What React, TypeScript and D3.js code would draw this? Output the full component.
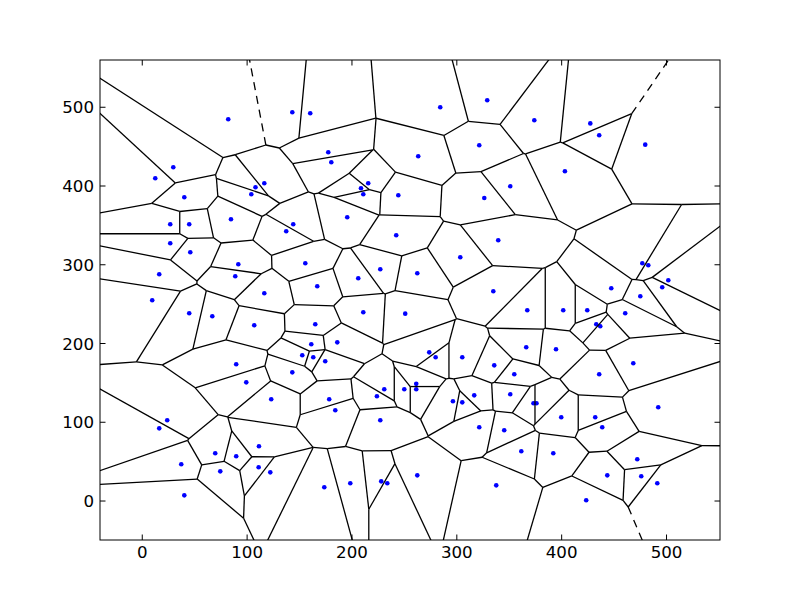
import React from "react";
import * as d3 from "d3";

// Generator points (data units)
const xs: number[] = [
  12.4, 29.6, 82.0, 143.1, 160.2, 284.2, 329.0, 373.9, 427.3, 435.8, 479.7,
  40.1, 108.0, 104.0, 116.4, 177.4, 180.3, 215.5, 208.6, 210.8, 244.2, 263.2,
  321.4, 403.1, 351.0, 326.2, 84.6, 195.5, 26.7, 44.8, 26.7, 45.8, 91.6, 16.2,
  88.7, 9.5, 44.8, 66.8, 106.8, 89.6, 99.2, 144.0, 137.3, 242.2, 155.5, 227.0,
  206.0, 166.9, 116.4, 210.8, 250.8, 165.0, 161.2, 186.0, 152.6, 163.1, 174.5,
  143.1, 339.5, 303.3, 262.3, 334.8, 367.2, 401.5, 366.2, 394.6, 273.7, 279.8,
  305.2, 335.7, 354.8, 261.3, 261.3, 249.9, 476.9, 482.6, 501.7, 495.9, 447.3,
  475.0, 424.4, 460.6, 433.0, 436.8, 468.3, 435.8, 23.8, 16.2, 69.6, 89.6,
  111.3, 37.2, 74.4, 111.0, 40.1, 123.0, 178.3, 184.1, 230.8, 223.8, 227.0,
  122.1, 173.6, 198.4, 227.9, 233.7, 296.3, 305.2, 316.6, 351.0, 373.1, 376.0,
  399.6, 321.4, 345.2, 361.5, 392.0, 262.3, 337.6, 492.1, 432.0, 438.7, 472.1,
  443.5, 475.9, 491.2, 423.4,
];
const ys: number[] = [
  409.8, 423.8, 484.8, 493.6, 492.4, 500.0, 508.9, 483.5, 479.5, 464.4, 452.5,
  385.7, 398.4, 389.5, 403.5, 442.8, 430.1, 403.5, 397.1, 389.5, 388.2, 437.8,
  451.7, 418.7, 399.7, 384.8, 357.8, 360.4, 351.4, 351.4, 327.3, 315.8, 300.6,
  287.9, 285.4, 254.9, 238.4, 234.6, 223.1, 173.6, 150.7, 351.4, 342.5, 337.4,
  301.9, 294.3, 282.8, 272.7, 263.8, 239.6, 237.9, 224.4, 199.0, 201.5, 185.0,
  182.5, 177.4, 163.4, 331.1, 309.5, 289.2, 266.3, 242.2, 242.2, 195.2, 192.7,
  188.8, 182.5, 182.5, 172.3, 160.9, 148.8, 141.9, 141.9, 301.9, 299.3, 280.3,
  271.4, 270.1, 260.0, 242.2, 238.4, 224.4, 221.9, 174.9, 160.9, 102.5, 92.3,
  60.6, 56.8, 69.5, 46.6, 37.7, 42.8, 7.2, 129.2, 129.2, 115.2, 141.9, 133.0,
  102.5, 36.4, 17.4, 22.5, 25.0, 22.5, 126.6, 125.3, 134.2, 135.5, 124.1,
  124.1, 106.3, 93.6, 89.8, 63.1, 60.6, 32.6, 19.9, 119.0, 106.3, 93.6, 53.0,
  32.6, 31.4, 22.5, 0.9,
];
const xTicks: number[] = [0, 100, 200, 300, 400, 500];
const yTicks: number[] = [0, 100, 200, 300, 400, 500];

const W = 800;
const H = 600;
const L = 100, R = 720, T = 60, B = 540;

export default function App() {
  const pts: [number, number][] = xs.map((x, i) => [x, ys[i]]);
  const x = d3.scaleLinear().domain([-40.3, 551]).range([L, R]);
  const y = d3.scaleLinear().domain([-49.5, 560]).range([B, T]);

  const delaunay = d3.Delaunay.from(pts);
  const { triangles, halfedges } = delaunay;
  const nT = triangles.length / 3;
  const cc: [number, number][] = [];
  for (let t = 0; t < nT; t++) {
    const [ax, ay] = pts[triangles[3 * t]];
    const [bx, by] = pts[triangles[3 * t + 1]];
    const [cx, cy] = pts[triangles[3 * t + 2]];
    const dx = bx - ax, dy = by - ay, ex = cx - ax, ey = cy - ay;
    const bl = dx * dx + dy * dy, cl = ex * ex + ey * ey;
    const d = 2 * (dx * ey - dy * ex);
    cc.push([ax + (ey * bl - dy * cl) / d, ay + (dx * cl - ex * bl) / d]);
  }
  const center = [d3.mean(xs)!, d3.mean(ys)!];
  const ptpMax = Math.max(d3.max(xs)! - d3.min(xs)!, d3.max(ys)! - d3.min(ys)!);

  const finite: [number, number][][] = [];
  const infinite: [number, number][][] = [];
  for (let e = 0; e < halfedges.length; e++) {
    const o = halfedges[e];
    if (o === -1) {
      const t = Math.floor(e / 3);
      const p1 = pts[triangles[e]];
      const p2 = pts[triangles[e % 3 === 2 ? e - 2 : e + 1]];
      let tx = p2[0] - p1[0], ty = p2[1] - p1[1];
      const nrm = Math.hypot(tx, ty);
      tx /= nrm; ty /= nrm;
      const n = [-ty, tx];
      const mx = (p1[0] + p2[0]) / 2, my = (p1[1] + p2[1]) / 2;
      const s = Math.sign((mx - center[0]) * n[0] + (my - center[1]) * n[1]);
      const v = cc[t];
      const far: [number, number] = [v[0] + s * n[0] * ptpMax, v[1] + s * n[1] * ptpMax];
      infinite.push([v, far]);
    } else if (o > e) {
      finite.push([cc[Math.floor(e / 3)], cc[Math.floor(o / 3)]]);
    }
  }

  const font = "'DejaVu Sans', sans-serif";
  const tl = 5.5;

  return (
    <svg width={W} height={H} style={{ position: "absolute", left: 0, top: 0, background: "#fff" }}>
      <defs>
        <clipPath id="plotclip">
          <rect x={L} y={T} width={R - L} height={B - T} />
        </clipPath>
      </defs>
      <rect x={0} y={0} width={W} height={H} fill="#fff" />
      <g clipPath="url(#plotclip)">
        {pts.map((p, i) => (
          <circle key={"p" + i} cx={x(p[0])} cy={y(p[1])} r={2.3} fill="#0000ff" />
        ))}
        {finite.map((s, i) => (
          <line key={"f" + i} x1={x(s[0][0])} y1={y(s[0][1])} x2={x(s[1][0])} y2={y(s[1][1])}
            stroke="#000" strokeWidth={1.3} />
        ))}
        {infinite.map((s, i) => (
          <line key={"i" + i} x1={x(s[0][0])} y1={y(s[0][1])} x2={x(s[1][0])} y2={y(s[1][1])}
            stroke="#000" strokeWidth={1.3} strokeDasharray="8,6" />
        ))}
      </g>
      <rect x={L} y={T} width={R - L} height={B - T} fill="none" stroke="#000" strokeWidth={1} />
      {xTicks.map((t) => (
        <g key={"xt" + t}>
          <line x1={x(t)} x2={x(t)} y1={B} y2={B - tl} stroke="#000" />
          <line x1={x(t)} x2={x(t)} y1={T} y2={T + tl} stroke="#000" />
          <text x={x(t)} y={558} textAnchor="middle" fontFamily={font} fontSize={16.67} fill="#000">{t}</text>
        </g>
      ))}
      {yTicks.map((t) => (
        <g key={"yt" + t}>
          <line x1={L} x2={L + tl} y1={y(t)} y2={y(t)} stroke="#000" />
          <line x1={R} x2={R - tl} y1={y(t)} y2={y(t)} stroke="#000" />
          <text x={94} y={y(t) + 6} textAnchor="end" fontFamily={font} fontSize={16.67} fill="#000">{t}</text>
        </g>
      ))}
    </svg>
  );
}
